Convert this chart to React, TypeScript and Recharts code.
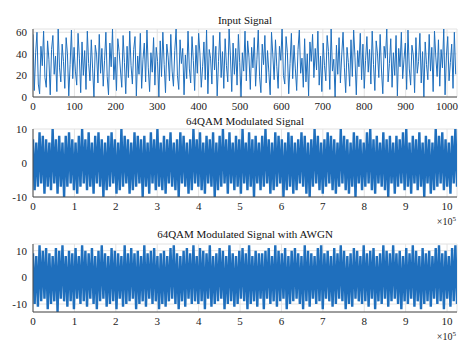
import React from 'react';
import { LineChart, Line, XAxis, YAxis, CartesianGrid } from 'recharts';

const inputSignal = [
  58, 6, 41, 60, 12, 3, 47, 29, 61, 18, 9, 52, 35, 2, 44, 57, 21, 38, 5, 63,
  27, 14, 49, 33, 8, 55, 40, 1, 30, 62, 17, 46, 24, 11, 59, 36, 4, 51, 20, 43,
  7, 61, 31, 15, 53, 26, 0, 48, 39, 13, 58, 22, 45, 10, 34, 60, 19, 2, 50, 28,
  63, 16, 37, 6, 54, 42, 25, 9, 57, 32, 3, 47, 18, 61, 29, 12, 44, 56, 1, 38,
  21, 59, 8, 35, 50, 14, 62, 27, 5, 41, 23, 55, 11, 46, 33, 0, 52, 19, 60, 30,
  4, 49, 37, 15, 58, 24, 10, 43, 63, 20, 7, 53, 31, 45, 2, 39, 17, 61, 26, 13,
  56, 34, 6, 48, 22, 59, 40, 9, 28, 51, 16, 62, 3, 44, 36, 12, 57, 25, 47, 1,
  33, 60, 18, 42, 8, 54, 29, 14, 63, 38, 5, 50, 21, 45, 11, 58, 32, 0, 41, 24,
  61, 15, 52, 37, 7, 46, 27, 55, 10, 35, 62, 19, 4, 49, 30, 57, 13, 43, 23, 2,
  60, 39, 16, 53, 28, 8, 47, 34, 63, 20, 12, 56, 41, 3, 31, 59, 17, 48, 26, 6,
  44, 62, 22, 36, 9, 54, 14, 40, 1, 51, 33, 58, 18, 45, 25, 61, 11, 38, 5, 50,
  29, 15, 57, 42, 7, 63, 24, 35, 0, 48, 21, 55, 13, 39, 60, 27, 4, 46, 32, 10,
  53, 19, 62, 37, 2, 43, 28, 59, 16, 49, 8, 34, 56, 23, 44, 12, 61, 30, 6, 52,
  40, 18, 58, 25, 3, 47, 36, 63, 14, 31, 54, 9, 41, 20, 57, 1, 45, 28, 60, 17,
  35, 50, 7, 62, 26, 11, 48, 39, 4, 55, 22, 33, 59, 13, 42, 0, 51, 30, 16, 58,
  24, 46, 5, 61, 37, 19, 53, 10, 44, 27, 63, 2, 38, 56, 15, 32, 49, 8, 60, 21,
];

const modSignal = [
  7, -8, 6, -7, 9, -6, 8, -9, 7, -7, 6, -8, 10, -6, 7, -9, 8, -7, 6, -10,
  8, -7, 9, -6, 7, -8, 6, -9, 8, -7, 10, -6, 7, -8, 9, -7, 6, -9, 8, -6,
  9, -7, 7, -10, 6, -8, 8, -7, 9, -6, 7, -9, 6, -8, 10, -7, 8, -6, 7, -9,
  6, -8, 9, -7, 8, -6, 7, -10, 8, -7, 6, -9, 9, -6, 7, -8, 10, -7, 6, -8,
  8, -9, 7, -6, 9, -7, 6, -8, 7, -10, 9, -6, 8, -7, 6, -9, 7, -8, 10, -6,
  7, -7, 9, -8, 6, -9, 8, -6, 7, -7, 9, -10, 6, -8, 8, -7, 10, -6, 7, -9,
  9, -6, 6, -8, 8, -7, 7, -9, 10, -6, 6, -8, 9, -7, 7, -10, 8, -6, 6, -8,
  8, -7, 10, -6, 7, -9, 6, -8, 9, -7, 8, -6, 7, -10, 6, -8, 9, -7, 8, -9,
  6, -8, 7, -6, 9, -7, 8, -9, 6, -10, 7, -7, 10, -6, 8, -8, 6, -9, 7, -7,
  9, -6, 8, -8, 7, -9, 6, -7, 10, -6, 8, -8, 7, -9, 6, -7, 9, -10, 8, -6,
  7, -8, 6, -7, 9, -6, 10, -8, 7, -9, 8, -6, 6, -7, 9, -8, 7, -10, 8, -6,
  6, -9, 8, -7, 7, -6, 9, -8, 10, -7, 6, -9, 8, -6, 7, -8, 9, -7, 6, -10,
  8, -6, 7, -9, 6, -8, 10, -7, 8, -6, 9, -8, 7, -7, 6, -9, 8, -6, 10, -7,
];

const awgnSignal = [
  9, -10, 8, -11, 12, -9, 10, -8, 11, -12, 9, -10, 8, -9, 11, -13, 10, -8, 12, -9,
  8, -11, 10, -9, 9, -12, 11, -8, 8, -10, 12, -9, 10, -11, 9, -8, 11, -10, 8, -12,
  10, -9, 12, -8, 9, -11, 8, -10, 11, -9, 10, -12, 9, -8, 8, -11, 12, -10, 9, -9,
  11, -8, 9, -12, 10, -10, 8, -9, 12, -11, 9, -8, 10, -10, 11, -9, 8, -12, 9, -10,
  10, -11, 8, -9, 11, -8, 12, -10, 9, -12, 8, -9, 10, -11, 11, -8, 9, -10, 12, -9,
  8, -10, 11, -9, 10, -12, 9, -8, 12, -11, 8, -10, 9, -9, 11, -8, 10, -12, 8, -10,
  12, -9, 9, -11, 8, -10, 10, -8, 11, -9, 9, -12, 12, -10, 8, -9, 10, -11, 9, -8,
  9, -12, 10, -8, 11, -10, 8, -9, 12, -11, 10, -9, 9, -8, 11, -12, 8, -10, 10, -9,
  11, -8, 9, -10, 8, -12, 12, -9, 10, -11, 9, -8, 8, -10, 11, -9, 12, -12, 9, -8,
  10, -9, 8, -11, 11, -10, 9, -8, 12, -9, 10, -12, 8, -10, 9, -11, 11, -8, 10, -9,
  8, -10, 12, -9, 9, -11, 10, -8, 11, -12, 8, -9, 9, -10, 12, -8, 10, -11, 9, -9,
  12, -8, 9, -10, 10, -12, 8, -9, 11, -10, 9, -8, 12, -11, 10, -9, 8, -12, 11, -10,
  9, -9, 10, -11, 8, -8, 11, -10, 12, -9, 9, -12, 10, -8, 8, -11, 11, -9, 12, -10,
];

const inputXTicks = [0, 100, 200, 300, 400, 500, 600, 700, 800, 900, 1000];
const inputYTicks = [0, 20, 40, 60];
const modXTicks = [0, 1, 2, 3, 4, 5, 6, 7, 8, 9, 10];
const modYTicks = [-10, 0, 10];

const FONT = '"Liberation Serif", "Times New Roman", serif';
const BLUE = '#1f6fbd';
const AXIS = '#4a4a4a';
const W = 474;

const toRows = (vals: number[], xMax: number) =>
  vals.map((v, i) => ({ x: (i * xMax) / (vals.length - 1), y: v }));

// serif tick text
const XTick = (p: any) => (
  <text x={p.x} y={p.y} dy="0.75em" textAnchor="middle" fontSize={11} fill="#222" style={{ fontFamily: FONT }}>
    {p.payload.value}
  </text>
);
const YTick = (p: any) => (
  <text x={p.x} y={p.y} dy="0.35em" textAnchor="end" fontSize={11} fill="#222" style={{ fontFamily: FONT }}>
    {p.payload.value}
  </text>
);

type PanelProps = {
  top: number;
  height: number;
  title: string;
  titleY: number;
  rows: { x: number; y: number }[];
  xDomain: [number, number];
  yDomain: [number, number];
  xTicks: number[];
  yTicks: number[];
  width: number;
  exponent?: boolean;
};

function Panel({ top, height, title, titleY, rows, xDomain, yDomain, xTicks, yTicks, width, exponent }: PanelProps) {
  return (
    <>
      <div
        style={{
          position: 'absolute', left: 33, width: 424, top: titleY - 7, textAlign: 'center',
          fontFamily: FONT, fontSize: 11, color: '#111', lineHeight: '14px',
        }}
      >
        {title}
      </div>
      <div style={{ position: 'absolute', left: 0, top }}>
        <LineChart width={W} height={height} data={rows} margin={{ top: 19, right: 17, left: 0, bottom: 0 }}>
          <CartesianGrid stroke="#e2e2e2" />
          <XAxis
            dataKey="x" type="number" domain={xDomain} ticks={xTicks} allowDataOverflow interval={0}
            tick={<XTick />} tickLine={false} tickSize={2} tickMargin={3} height={20} stroke={AXIS}
          />
          <XAxis xAxisId="top" orientation="top" type="number" domain={xDomain} tick={false} tickLine={false} height={0} stroke={AXIS} />
          <YAxis
            type="number" domain={yDomain} ticks={yTicks} allowDataOverflow interval={0}
            tick={<YTick />} tickLine={false} tickSize={2} tickMargin={4} width={33} stroke={AXIS}
          />
          <YAxis yAxisId="right" orientation="right" type="number" domain={yDomain} tick={false} tickLine={false} width={0} stroke={AXIS} />
          <Line dataKey="y" stroke={BLUE} strokeWidth={width} dot={false} isAnimationActive={false} />
        </LineChart>
      </div>
      {exponent && (
        <div
          style={{
            position: 'absolute', right: W - 456, top: top + height - 1, fontFamily: FONT,
            fontSize: 10, color: '#222', lineHeight: '12px',
          }}
        >
          ×10<sup style={{ fontSize: 7, lineHeight: 0 }}>5</sup>
        </div>
      )}
    </>
  );
}

export default function App() {
  return (
    <div style={{ position: 'absolute', left: 0, top: 0, width: W, height: 353, background: '#fff', overflow: 'hidden' }}>
      <Panel
        top={10} height={107} title="Input Signal" titleY={20}
        rows={toRows(inputSignal, 1020.8)} xDomain={[0, 1024]} yDomain={[0, 63]}
        xTicks={inputXTicks} yTicks={inputYTicks} width={1}
      />
      <Panel
        top={110} height={107} title="64QAM Modulated Signal" titleY={121}
        rows={toRows(modSignal, 10.24)} xDomain={[0, 10.24]} yDomain={[-10, 10]}
        xTicks={modXTicks} yTicks={modYTicks} width={2.4} exponent
      />
      <Panel
        top={225} height={107} title="64QAM Modulated Signal with AWGN" titleY={234}
        rows={toRows(awgnSignal, 10.24)} xDomain={[0, 10.24]} yDomain={[-13, 12.5]}
        xTicks={modXTicks} yTicks={modYTicks} width={2.4} exponent
      />
    </div>
  );
}
